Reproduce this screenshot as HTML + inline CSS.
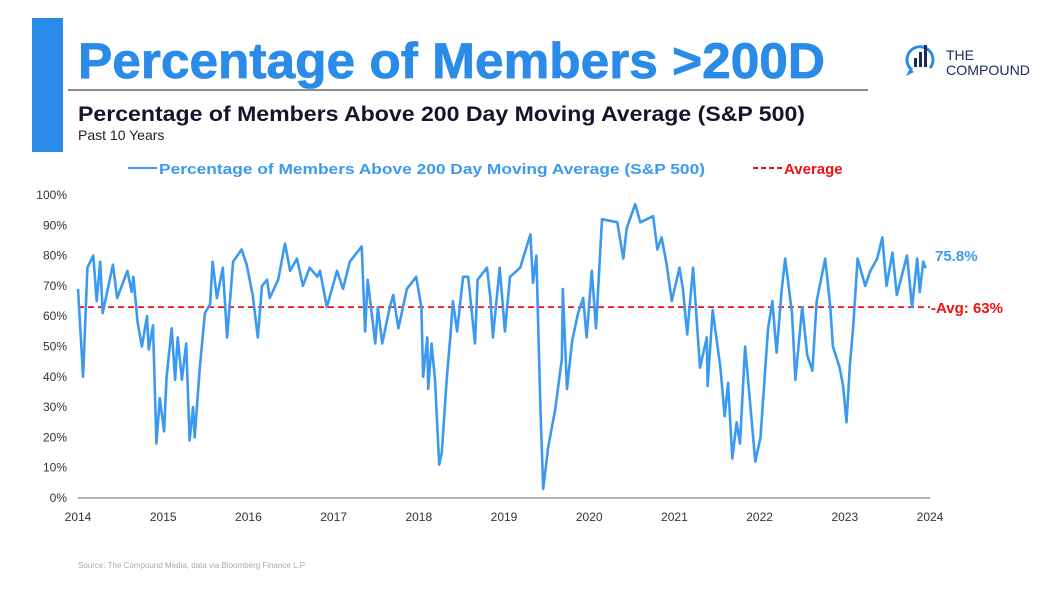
<!DOCTYPE html>
<html><head><meta charset="utf-8"><style>
body{margin:0;background:#fff;width:1040px;height:601px;overflow:hidden;font-family:"Liberation Sans",sans-serif}
</style></head><body>
<svg id="chart" width="1040" height="601" viewBox="0 0 1040 601" xmlns="http://www.w3.org/2000/svg">
<rect x="32" y="18" width="31" height="134" fill="#2a8be8"/>
<text x="78" y="78" font-size="50" font-weight="bold" fill="#2a8be8" stroke="#2a8be8" stroke-width="0.8" textLength="747" lengthAdjust="spacingAndGlyphs">Percentage of Members &gt;200D</text>
<line x1="68" y1="90" x2="868" y2="90" stroke="#666" stroke-width="1.5"/>
<text x="78" y="121" font-size="21" font-weight="bold" fill="#14142b" textLength="727" lengthAdjust="spacingAndGlyphs">Percentage of Members Above 200 Day Moving Average (S&amp;P 500)</text>
<text x="78" y="140" font-size="14" fill="#222">Past 10 Years</text>
<g>
<path d="M912 70 A13 13 0 1 1 930 68" fill="none" stroke="#2a8be8" stroke-width="3"/>
<path d="M910 68 L906 76 L914 72 Z" fill="#2a8be8"/>
<rect x="914" y="58" width="3" height="9" fill="#1a2a5a"/>
<rect x="919" y="52" width="3" height="15" fill="#1a2a5a"/>
<rect x="924" y="45" width="3" height="22" fill="#1a2a5a"/>
<text x="946" y="60" font-size="14" fill="#1a2a5a">THE</text>
<text x="946" y="75" font-size="14" fill="#1a2a5a" textLength="84" lengthAdjust="spacingAndGlyphs">COMPOUND</text>
</g>
<g>
<line x1="128" y1="168" x2="157" y2="168" stroke="#3b9af0" stroke-width="2"/>
<text x="159" y="174" font-size="15" font-weight="bold" fill="#3b9af0" textLength="546" lengthAdjust="spacingAndGlyphs">Percentage of Members Above 200 Day Moving Average (S&amp;P 500)</text>
<line x1="753" y1="168" x2="782" y2="168" stroke="#ee1111" stroke-width="2" stroke-dasharray="5,3"/>
<text x="784" y="174" font-size="15" font-weight="bold" fill="#ee1111">Average</text>
</g>
<g id="yaxis"></g>
<g id="xaxis"></g>
<g id="plot"></g>
<text x="78" y="568" font-size="8" fill="#aaa">Source: The Compound Media, data via Bloomberg Finance L.P</text>
</svg>
<script>
const yTicks=[0,10,20,30,40,50,60,70,80,90,100];
const xTicks=[2014,2015,2016,2017,2018,2019,2020,2021,2022,2023,2024];
const average=63;
const dates=[2014.00,2014.06,2014.11,2014.18,2014.22,2014.26,2014.29,2014.41,2014.46,2014.58,2014.63,2014.65,2014.70,2014.75,2014.81,2014.83,2014.88,2014.92,2014.96,
2015.01,2015.04,2015.10,2015.14,2015.17,2015.22,2015.27,2015.31,2015.35,2015.37,2015.43,2015.49,2015.55,2015.58,2015.63,2015.70,2015.75,2015.82,2015.92,2015.98,
2016.05,2016.11,2016.16,2016.22,2016.25,2016.35,2016.43,2016.49,2016.57,2016.64,2016.72,2016.81,2016.84,2016.92,
2017.04,2017.11,2017.19,2017.33,2017.37,2017.40,2017.49,2017.52,2017.57,2017.66,2017.70,2017.76,2017.86,2017.97,
2018.03,2018.05,2018.10,2018.11,2018.15,2018.19,2018.24,2018.27,2018.33,2018.37,2018.40,2018.45,2018.52,2018.58,2018.66,2018.69,2018.80,2018.84,
2018.87,2018.95,2019.01,2019.07,2019.19,2019.31,2019.34,2019.38,2019.41,2019.43,2019.46,2019.52,2019.60,2019.68,2019.69,2019.74,2019.80,2019.87,2019.93,2019.97,
2020.03,2020.08,2020.15,2020.33,2020.40,2020.44,2020.54,2020.60,2020.75,2020.80,2020.85,2020.91,2020.97,
2021.06,2021.10,2021.15,2021.22,2021.30,2021.38,2021.39,2021.45,2021.54,2021.59,2021.63,2021.68,2021.73,2021.77,2021.83,2021.89,2021.95,
2022.01,2022.06,2022.10,2022.15,2022.20,2022.26,2022.30,2022.38,2022.42,2022.50,2022.56,2022.62,2022.67,2022.77,2022.83,2022.86,2022.94,2022.98,
2023.02,2023.06,2023.10,2023.15,2023.24,2023.30,2023.38,2023.44,2023.49,2023.56,2023.61,2023.73,2023.79,2023.85,2023.88,2023.92,2023.95];
const pct=[69,40,76,80,65,78,61,77,66,75,68,73,58,50,60,49,57,18,33,
22,40,56,39,53,39,51,19,30,20,43,61,64,78,66,76,53,78,82,77,
67,53,70,72,66,72,84,75,79,70,76,73,75,63,
75,69,78,83,55,72,51,63,51,63,67,56,69,73,
63,40,53,36,51,39,11,15,40,53,65,55,73,73,51,72,76,66,
53,76,55,73,76,87,71,80,48,28,3,17,29,46,69,36,52,61,66,53,
75,56,92,91,79,89,97,91,93,82,86,77,65,
76,69,54,76,43,53,37,62,43,27,38,13,25,18,50,31,12,
20,40,56,65,48,69,79,61,39,63,47,42,65,79,63,50,43,37,
25,44,57,79,70,75,79,86,70,81,67,80,63,79,68,78,75.8];
const NS='http://www.w3.org/2000/svg';
const X0=78,X1=930,Y0=498,Y1=195;
function xs(v){return X0+(v-2014)/(2024-2014)*(X1-X0);}
function ys(v){return Y0-v/100*(Y0-Y1);}
function mk(tag,attrs,parent){const e=document.createElementNS(NS,tag);for(const k in attrs)e.setAttribute(k,attrs[k]);parent.appendChild(e);return e;}
const yg=document.getElementById('yaxis'),xg=document.getElementById('xaxis'),pg=document.getElementById('plot');
yTicks.forEach(t=>{const e=mk('text',{x:67,y:ys(t)+4,'font-size':12,fill:'#333','text-anchor':'end'},yg);e.textContent=t+'%';

});
const ax=mk('line',{x1:X0,y1:Y0,x2:X1,y2:Y0,stroke:'#888','stroke-width':1.2},xg);


xTicks.forEach(t=>{const e=mk('text',{x:xs(t),y:521,'font-size':12,fill:'#333','text-anchor':'middle'},xg);e.textContent=t;

});
const avg=mk('line',{x1:X0,y1:ys(average),x2:X1,y2:ys(average),stroke:'#ee1111','stroke-width':1.8,'stroke-dasharray':'6,4'},pg);


let d='';dates.forEach((t,i)=>{d+=(i?'L':'M')+xs(t).toFixed(1)+' '+ys(pct[i]).toFixed(1);});
const ln=mk('path',{d:d,fill:'none',stroke:'#3b9af0','stroke-width':2.6,'stroke-linejoin':'round'},pg);


const last=pct[pct.length-1];
const lb=mk('text',{x:935,y:261,'font-size':15,'font-weight':'bold',fill:'#3b9af0'},pg);lb.textContent=last+'%';


const al=mk('text',{x:931,y:ys(average)+6,'font-size':15,'font-weight':'bold',fill:'#ee1111'},pg);al.textContent='-Avg: '+average+'%';


</script>
</body></html>
